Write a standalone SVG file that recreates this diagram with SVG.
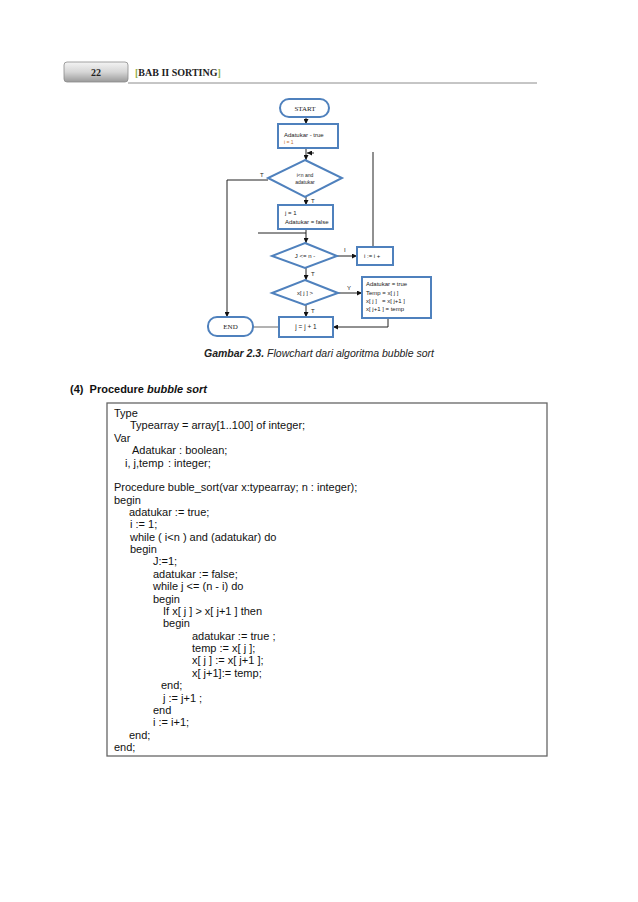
<svg xmlns="http://www.w3.org/2000/svg" width="638" height="902" viewBox="0 0 638 902">
<defs>
<linearGradient id="btn" x1="0" y1="0" x2="0" y2="1">
<stop offset="0" stop-color="#f4f4f4"/>
<stop offset="0.5" stop-color="#d6d6d6"/>
<stop offset="1" stop-color="#9a9a9a"/>
</linearGradient>
<marker id="ah" viewBox="0 0 10 10" refX="10" refY="5" markerWidth="5" markerHeight="5" markerUnits="userSpaceOnUse" orient="auto">
<path d="M0,0 L10,5 L0,10 z" fill="#111"/>
</marker>
</defs>
<style>
.node{fill:#fff;stroke:#4f81bd;stroke-width:2}
.ln{fill:none;stroke:#222;stroke-width:1}
.lg{fill:none;stroke:#666;stroke-width:1}
.t{font-family:"Liberation Sans",Arial,sans-serif;font-size:6px;fill:#222}
.ts{font-family:"Liberation Serif","Times New Roman",serif;font-size:7px;fill:#222}
.lab{font-family:"Liberation Sans",Arial,sans-serif;font-size:6px;fill:#222}
.code{font-family:"Liberation Sans",Arial,sans-serif;font-size:11px;fill:#111}
.hd{font-family:"Liberation Serif","Times New Roman",serif;font-weight:bold;font-size:10px;fill:#222}
</style>
<rect width="638" height="902" fill="#fff"/>

<!-- Header -->
<g id="header">
<rect x="64" y="62" width="64" height="20" rx="3" fill="url(#btn)" stroke="#8a8a8a" stroke-width="0.8"/>
<text x="96" y="76" class="hd" text-anchor="middle">22</text>
<text x="135" y="76" class="hd"><tspan fill="#8fae4b">[</tspan>BAB II SORTING<tspan fill="#8fae4b">]</tspan></text>
<line x1="128" y1="83" x2="537" y2="83" stroke="#8c8c8c" stroke-width="1"/>
</g>

<!-- Connectors -->
<g id="connectors">
<line class="ln" x1="306" y1="117" x2="306" y2="124" marker-end="url(#ah)"/>
<line class="ln" x1="306" y1="148" x2="306" y2="160" marker-end="url(#ah)"/>
<line class="ln" x1="314" y1="153" x2="307" y2="153" marker-end="url(#ah)"/>
<polyline class="ln" points="268,180 227,180 227,317" marker-end="url(#ah)"/>
<line class="ln" x1="306" y1="197" x2="306" y2="205" marker-end="url(#ah)"/>
<line class="ln" x1="306" y1="229" x2="306" y2="243" marker-end="url(#ah)"/>
<line class="ln" x1="258" y1="233" x2="306" y2="233"/>
<line class="ln" x1="337" y1="256" x2="357" y2="256" marker-end="url(#ah)"/>
<line class="ln" x1="373" y1="247" x2="373" y2="152"/>
<line class="ln" x1="306" y1="268" x2="306" y2="280" marker-end="url(#ah)"/>
<line class="ln" x1="338" y1="293" x2="362" y2="293" marker-end="url(#ah)"/>
<line class="ln" x1="306" y1="305" x2="306" y2="317" marker-end="url(#ah)"/>
<polyline class="ln" points="388,318 388,327 333,327" marker-end="url(#ah)"/>
<line class="lg" x1="253" y1="327" x2="279" y2="327"/>
<text class="lab" x="260" y="177">T</text>
<text class="lab" x="311" y="203">T</text>
<text class="lab" x="344" y="252">I</text>
<text class="lab" x="311" y="276">T</text>
<text class="lab" x="347" y="290">Y</text>
<text class="lab" x="311" y="313">T</text>
</g>

<!-- Nodes -->
<g id="start">
<rect class="node" x="280" y="99" width="49" height="18" rx="9"/>
<text class="ts" x="305" y="110.5" text-anchor="middle">START</text>
</g>
<g id="init">
<rect class="node" x="278" y="124" width="60" height="24"/>
<text class="t" x="284" y="137">Adatukar - true</text>
<text class="t" x="284" y="144" style="font-size:5px;fill:#c07030">i = 1</text>
</g>
<g id="cond-outer">
<polygon class="node" points="305,160 342,178 305,197 268,178"/>
<text class="t" x="305" y="177" text-anchor="middle" style="font-size:5px">i&lt;n and</text>
<text class="t" x="305" y="184" text-anchor="middle" style="font-size:5px">adatukar</text>
</g>
<g id="reset">
<rect class="node" x="278" y="205" width="55" height="24"/>
<text class="t" x="285" y="215">j = 1</text>
<text class="t" x="285" y="224">Adatukar = false</text>
</g>
<g id="cond-inner">
<polygon class="node" points="305,243 337,256 305,268 272,256"/>
<text class="t" x="305" y="258" text-anchor="middle">J &lt;= n -</text>
</g>
<g id="inc-i">
<rect class="node" x="357" y="247" width="36" height="18"/>
<text class="t" x="364" y="258">i := i +</text>
</g>
<g id="cond-compare">
<polygon class="node" points="305,280 338,293 305,305 272,293"/>
<text class="t" x="305" y="295" text-anchor="middle">x[ j ] &gt;</text>
</g>
<g id="swap">
<rect class="node" x="362" y="277" width="69" height="41"/>
<text class="t" x="366" y="286">Adatukar = true</text>
<text class="t" x="366" y="294.5">Temp = x[ j ]</text>
<text class="t" x="366" y="302.5" xml:space="preserve">x[ j ]   = x[ j+1 ]</text>
<text class="t" x="366" y="310.5">x[ j+1 ] = temp</text>
</g>
<g id="inc-j">
<rect class="node" x="279" y="317" width="54" height="20"/>
<text class="t" x="306" y="329" text-anchor="middle" style="font-size:6.5px">j = j + 1</text>
</g>
<g id="end">
<rect class="node" x="208" y="317" width="45" height="19" rx="9"/>
<text class="ts" x="230.5" y="329" text-anchor="middle">END</text>
</g>

<!-- Caption -->
<g id="caption">
<text x="319" y="357" text-anchor="middle" style="font-family:'Liberation Sans',Arial,sans-serif;font-size:10.5px;font-style:italic;fill:#222"><tspan font-weight="bold">Gambar 2.3.</tspan> Flowchart dari algoritma bubble sort</text>
<text x="70" y="393" xml:space="preserve" style="font-family:'Liberation Sans',Arial,sans-serif;font-size:11px;font-weight:bold;fill:#111">(4)  Procedure <tspan font-style="italic">bubble sort</tspan></text>
</g>

<!-- Code box -->
<g id="code" xml:space="preserve">
<rect x="107" y="403" width="440" height="353" fill="#fff" stroke="#666" stroke-width="1.3"/>
<text class="code" x="114" y="417">Type</text>
<text class="code" x="130" y="429.4">Typearray = array[1..100] of integer;</text>
<text class="code" x="114" y="441.7">Var</text>
<text class="code" x="132" y="454.1">Adatukar : boolean;</text>
<text class="code" x="125" y="466.5">i, j,temp</text>
<text class="code" x="168" y="466.5">: integer;</text>
<text class="code" x="114" y="491.2">Procedure buble_sort(var x:typearray; n : integer);</text>
<text class="code" x="114" y="503.6">begin</text>
<text class="code" x="129" y="516">adatukar := true;</text>
<text class="code" x="130" y="528.3">i := 1;</text>
<text class="code" x="130" y="540.7">while ( i&lt;n ) and (adatukar) do</text>
<text class="code" x="130" y="553.1">begin</text>
<text class="code" x="153" y="565.4">J:=1;</text>
<text class="code" x="153" y="577.8">adatukar  := false;</text>
<text class="code" x="153" y="590.2">while j &lt;= (n - i) do</text>
<text class="code" x="153" y="602.5">begin</text>
<text class="code" x="163" y="614.9">If x[ j ] &gt; x[ j+1 ] then</text>
<text class="code" x="163" y="627.3">begin</text>
<text class="code" x="192" y="639.7">adatukar := true ;</text>
<text class="code" x="192" y="652">temp  := x[ j ];</text>
<text class="code" x="192" y="664.4">x[ j ]   := x[ j+1 ];</text>
<text class="code" x="192" y="676.8">x[ j+1]:= temp;</text>
<text class="code" x="161" y="689.1">end;</text>
<text class="code" x="163" y="701.5">j := j+1 ;</text>
<text class="code" x="153" y="713.9">end</text>
<text class="code" x="153" y="726.2">i := i+1;</text>
<text class="code" x="129" y="738.6">end;</text>
<text class="code" x="114" y="751">end;</text>
</g>
</svg>
